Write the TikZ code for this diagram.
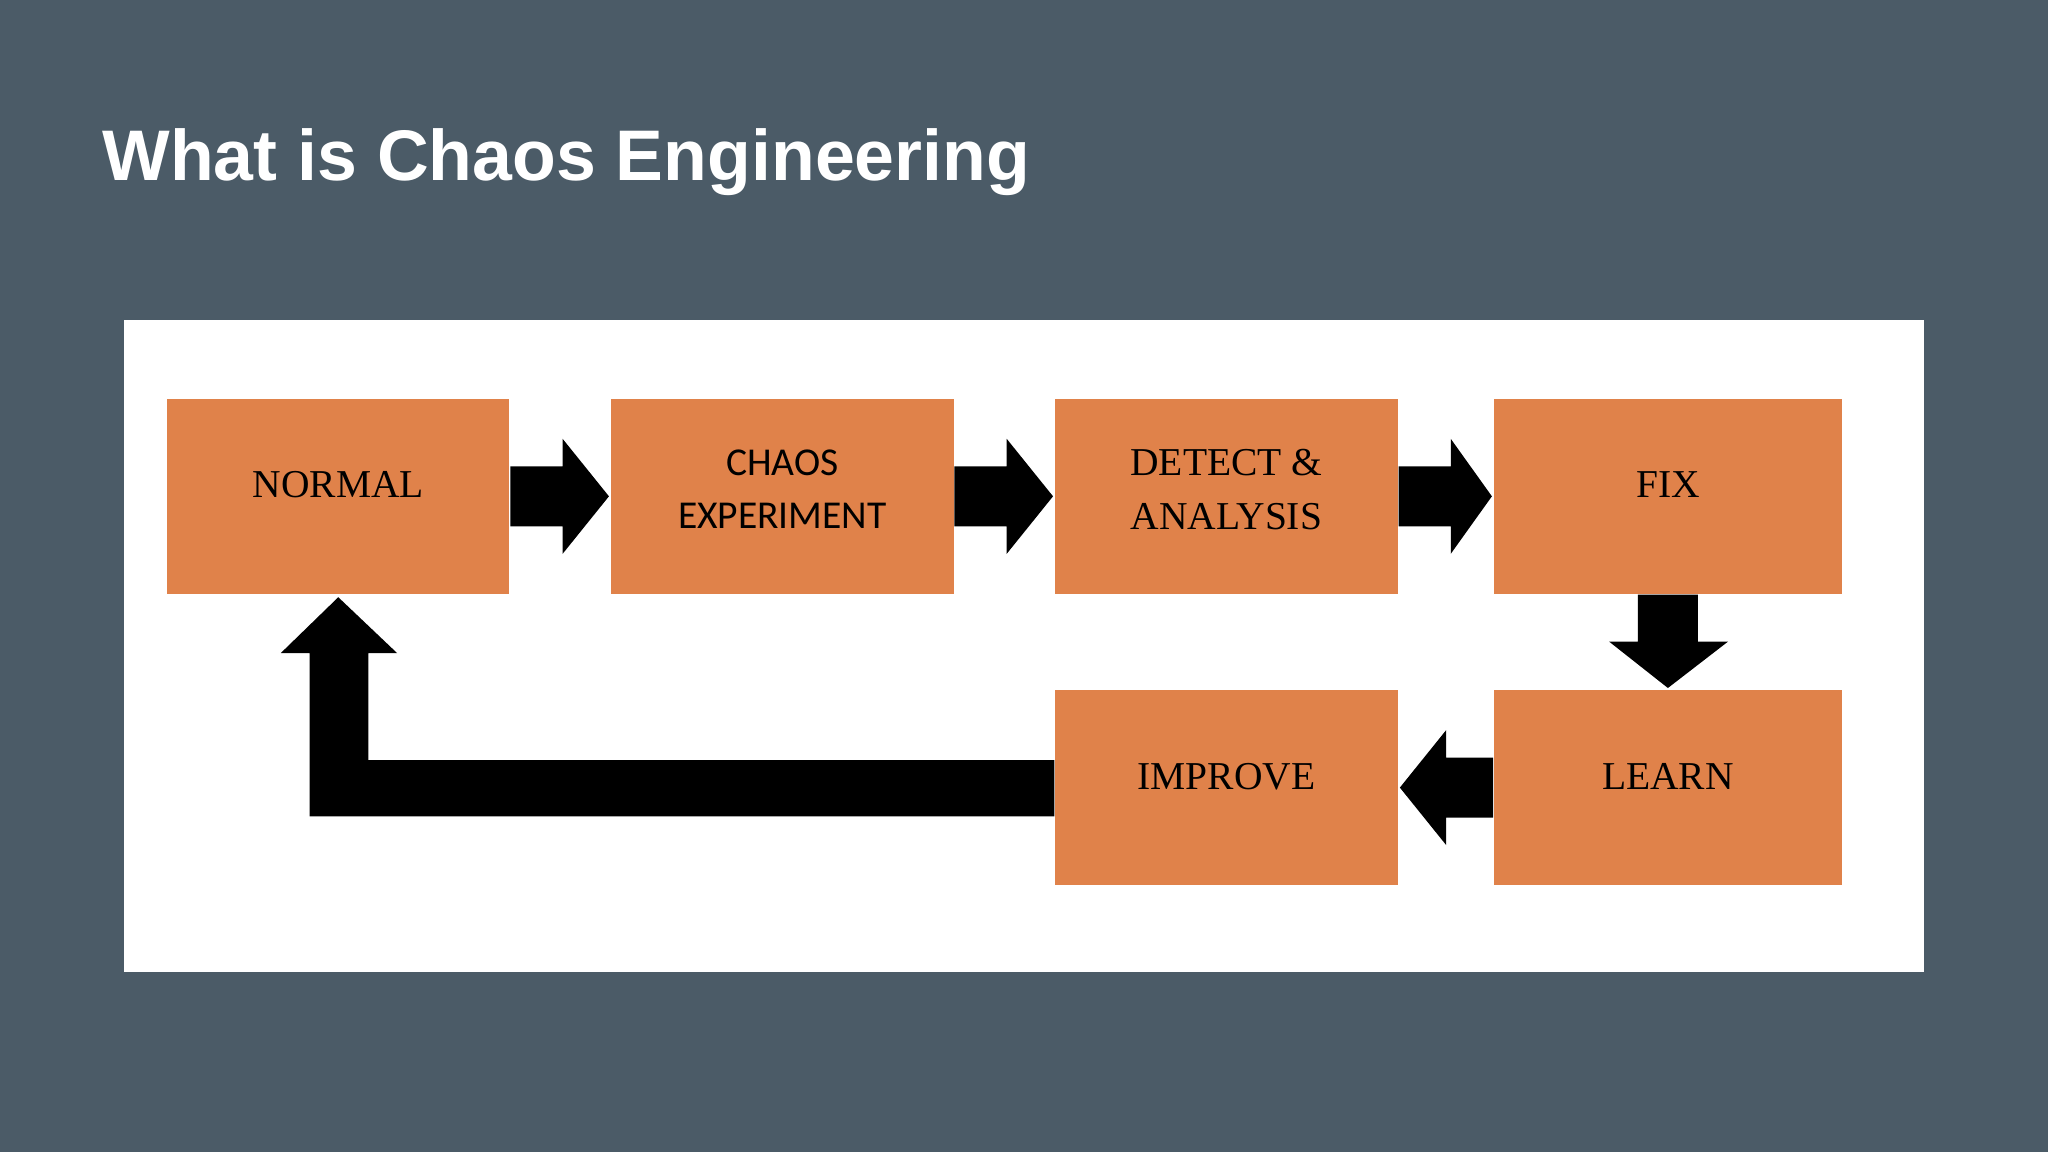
\documentclass[tikz,border=0pt]{standalone}
\usepackage{fontspec}
\setmainfont{Liberation Serif}
\newfontfamily\titlefont{Liberation Sans}
\newfontfamily\calfont{Carlito}
\usetikzlibrary{calc}
\definecolor{slate}{HTML}{4B5B67}
\definecolor{boxorange}{HTML}{E0824A}
\begin{document}
\begin{tikzpicture}
[
	x	= 0.01cm,	% one unit per reference pixel
	y	= -0.01cm,
	%
	% ----------- styles --------------
	step box/.style =
	{
		fill			= boxorange,
		minimum width	= 2.62cm,
		minimum height	= 1.49cm,
		inner sep		= 0pt,
		align			= center,
		font			= \fontsize{8.6}{12.3}\selectfont
	},
	block arrow/.style =
	{
		fill	= black
	}
]

% background and panel
\fill[slate] (0,0) rectangle (1568,882);
\useasboundingbox (0,0) rectangle (1568,882);
\fill[white] (95,245) rectangle (1473,744);
\node[anchor=west, text=white, font=\titlefont\bfseries\fontsize{15.6}{18}\selectfont] (title) at (66,124) {What is Chaos Engineering};

% steps
\node[step box] (normal)  at (259,380) {\raisebox{5pt}{NORMAL}};
\node[step box, font=\calfont\fontsize{8.6}{12.3}\selectfont] (chaos) at (599,380) {\raisebox{3pt}{\shortstack{CHAOS\\[3pt]EXPERIMENT}}};
\node[step box] (detect)  at (939,380) {\raisebox{3pt}{\shortstack{DETECT \&\\[3pt]ANALYSIS}}};
\node[step box, minimum width=2.66cm] (fix) at (1277,380) {\raisebox{5pt}{FIX}};
\node[step box] (improve) at (939,603) {\raisebox{5pt}{IMPROVE}};
\node[step box, minimum width=2.66cm] (learn) at (1277,603) {\raisebox{5pt}{LEARN}};

% right arrows
\foreach \a/\b in {normal/chaos, chaos/detect, detect/fix}
{
	\fill[block arrow] ($(\a.east)+(0,-23)$) -- ($(\a.east)+(40,-23)$) -- ($(\a.east)+(40,-44)$)
		-- ($(\b.west)+(-1,0)$) -- ($(\a.east)+(40,44)$) -- ($(\a.east)+(40,23)$) -- ($(\a.east)+(0,23)$) -- cycle;
}

% down arrow
\fill[block arrow] ($(fix.south)+(-23,0)$) -- ($(fix.south)+(-23,36)$) -- ($(fix.south)+(-45,36)$)
	-- ($(learn.north)+(0,-1)$) -- ($(fix.south)+(46,36)$) -- ($(fix.south)+(23,36)$) -- ($(fix.south)+(23,0)$) -- cycle;

% left arrow
\fill[block arrow] ($(learn.west)+(0,-23)$) -- ($(learn.west)+(-36,-23)$) -- ($(learn.west)+(-36,-44)$)
	-- ($(improve.east)+(1,0)$) -- ($(learn.west)+(-36,44)$) -- ($(learn.west)+(-36,23)$) -- ($(learn.west)+(0,23)$) -- cycle;

% return arrow
\fill[block arrow] ($(improve.west)+(0,-21)$) -- (282,582) -- (282,500) -- (304,500)
	-- ($(normal.south)+(0,2)$) -- (215,500) -- (237,500) -- (237,625) -- ($(improve.west)+(0,22)$) -- cycle;

\end{tikzpicture}
\end{document}
